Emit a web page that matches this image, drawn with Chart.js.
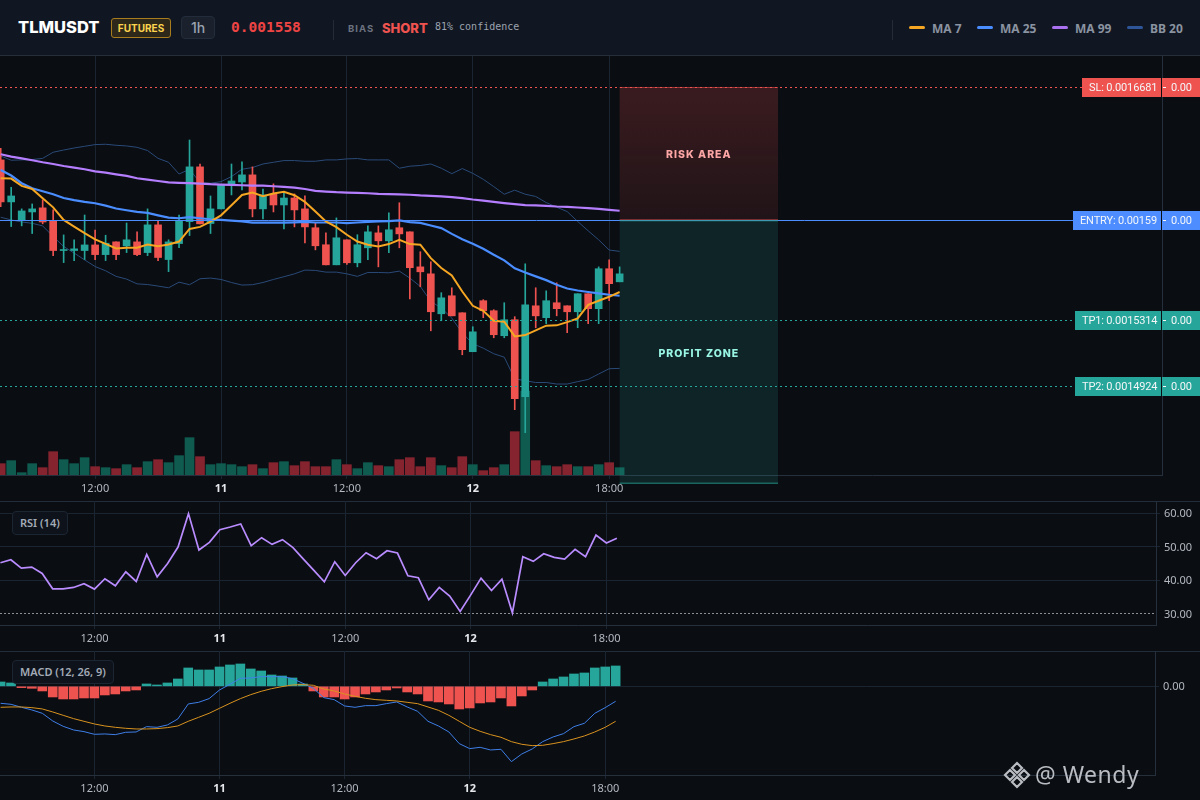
<!DOCTYPE html>
<html>
<head>
<meta charset="utf-8">
<title>TLMUSDT</title>
<script src="https://cdn.jsdelivr.net/npm/chart.js@4"></script>
<style>
html,body{margin:0;padding:0;background:#0a0d12;width:1200px;height:800px;overflow:hidden;font-family:"Noto Sans",sans-serif}
canvas{position:absolute;left:0}
.hd{position:absolute;left:0;top:0;width:1200px;height:55px;background:#111722;border-bottom:1px solid #262e39}
.t{position:absolute;white-space:nowrap}
.sep{position:absolute;top:20px;width:1px;height:20px;background:#232b37}
.sw{position:absolute;top:26px;width:16px;height:3px;border-radius:2px}
.lg{top:20px;font-size:12px;font-weight:700;color:#8a93a1}
.rule{position:absolute;left:0;width:1200px;height:1px;background:#232d3a}
.tag{position:absolute;left:12px;background:#0e131b;border:1px solid #1c2532;border-radius:4px;color:#a3abb7;font-size:11px;font-weight:600;line-height:22px;padding:0 7px;box-sizing:border-box;height:24px}
</style>
</head>
<body>
<div class="hd">
  <div class="t" style="left:18px;top:17px;font:800 16.5px Inter;color:#fff">TLMUSDT</div>
  <div class="t" style="left:111px;top:18px;width:60px;height:20px;box-sizing:border-box;border:1px solid #a97c1d;border-radius:3px;background:#2e281b;color:#fcd34d;font:700 10px/18px Inter;text-align:center">FUTURES</div>
  <div class="t" style="left:181px;top:16px;width:34px;height:23px;box-sizing:border-box;border:1px solid #232c3a;border-radius:4px;background:#1a212d;color:#9aa3b0;font:500 14px/21px Inter;text-align:center">1h</div>
  <div class="t" style="left:231px;top:19px;font:700 14.5px 'DejaVu Sans Mono';color:#ef4444">0.001558</div>
  <div class="sep" style="left:333px"></div>
  <div class="t" style="left:348px;top:23px;font:700 9.5px Inter;letter-spacing:1px;color:#6b7280">BIAS</div>
  <div class="t" style="left:382px;top:20px;font:800 13px Inter;color:#ef5350">SHORT</div>
  <div class="t" style="left:435px;top:21px;font:400 10px 'DejaVu Sans Mono';color:#9ca3af">81% confidence</div>
  <div class="sep" style="left:892px"></div>
  <div class="sw" style="left:909px;background:#f5a623"></div><div class="t lg" style="left:932px">MA 7</div>
  <div class="sw" style="left:977px;background:#4a8dff"></div><div class="t lg" style="left:1000px">MA 25</div>
  <div class="sw" style="left:1052px;background:#a970f0"></div><div class="t lg" style="left:1075px">MA 99</div>
  <div class="sw" style="left:1127px;background:#2e5597"></div><div class="t lg" style="left:1150px">BB 20</div>
</div>
<div class="rule" style="top:501px"></div>
<div class="rule" style="top:651px"></div>
<canvas id="mainChart" width="1200" height="444" style="top:56px"></canvas>
<canvas id="rsiChart" width="1200" height="149" style="top:501px"></canvas>
<canvas id="macdChart" width="1200" height="149" style="top:651px"></canvas>
<div class="tag" style="top:511px">RSI (14)</div>
<div class="tag" style="top:660px">MACD (12, 26, 9)</div>
<svg style="position:absolute;left:1003px;top:761px" width="28" height="28" viewBox="0 0 28 28" fill="none" stroke="#b9bcc2" stroke-width="2.2">
  <path d="M14 2 L19 7 L14 12 L9 7 Z M7 9 L12 14 L7 19 L2 14 Z M21 9 L26 14 L21 19 L16 14 Z M14 16 L19 21 L14 26 L9 21 Z"/>
</svg>
<div class="t" style="left:1035px;top:758px;font:400 23px 'Noto Sans';color:#b9bcc2;letter-spacing:.5px">@ Wendy</div>

<script>
// candles
var opens = [0.0016255,0.0016008,0.0015898,0.0015949,0.0015973,0.0015896,0.0015722,0.0015722,0.0015722,0.0015755,
0.0015698,0.0015773,0.0015749,0.0015773,0.0015710,0.0015873,0.0015669,0.0015763,0.0015892,0.0016214,
0.0015881,0.0015967,0.0016108,0.0016125,0.0016167,0.0015967,0.0016055,0.0015990,0.0016031,0.0015967,
0.0015856,0.0015756,0.0015638,0.0015785,0.0015650,0.0015738,0.0015826,0.0015779,0.0015856,0.0015832,
0.0015626,0.0015585,0.0015350,0.0015456,0.0015356,0.0015127,0.0015427,0.0015368,0.0015221,0.0015315,
0.0014862,0.0015397,0.0015327,0.0015415,0.0015397,0.0015362,0.0015468,0.0015380,0.0015615,0.0015538];
var highs = [0.0016323,0.0016094,0.0015967,0.0015996,0.0016020,0.0015961,0.0015814,0.0015785,0.0015931,0.0015843,
0.0015812,0.0015773,0.0015884,0.0015832,0.0015967,0.0015896,0.0015785,0.0015931,0.0016372,0.0016231,
0.0016043,0.0016108,0.0016231,0.0016243,0.0016214,0.0016084,0.0016114,0.0016067,0.0016055,0.0016043,
0.0015883,0.0015826,0.0015914,0.0015785,0.0015815,0.0015867,0.0015867,0.0015944,0.0016003,0.0015832,
0.0015715,0.0015656,0.0015474,0.0015503,0.0015356,0.0015274,0.0015433,0.0015374,0.0015415,0.0015333,
0.0015644,0.0015503,0.0015485,0.0015532,0.0015397,0.0015468,0.0015468,0.0015626,0.0015668,0.0015626];
var lows = [0.0015980,0.0015863,0.0015867,0.0015822,0.0015879,0.0015692,0.0015651,0.0015663,0.0015669,0.0015669,
0.0015663,0.0015669,0.0015710,0.0015692,0.0015692,0.0015663,0.0015598,0.0015739,0.0015810,0.0015879,
0.0015822,0.0015967,0.0016049,0.0016078,0.0015920,0.0015908,0.0015949,0.0015849,0.0015861,0.0015767,
0.0015726,0.0015638,0.0015638,0.0015640,0.0015626,0.0015668,0.0015626,0.0015709,0.0015738,0.0015438,
0.0015509,0.0015250,0.0015309,0.0015338,0.0015109,0.0015127,0.0015327,0.0015209,0.0015209,0.0014786,
0.0014651,0.0015268,0.0015292,0.0015338,0.0015239,0.0015268,0.0015292,0.0015292,0.0015427,0.0015538];
var closes = [0.0016008,0.0016043,0.0015955,0.0015967,0.0015890,0.0015722,0.0015726,0.0015732,0.0015755,0.0015698,
0.0015765,0.0015698,0.0015785,0.0015698,0.0015873,0.0015681,0.0015773,0.0015896,0.0016214,0.0015879,
0.0015967,0.0016108,0.0016131,0.0016167,0.0015967,0.0016049,0.0015990,0.0016031,0.0015961,0.0015861,
0.0015750,0.0015638,0.0015797,0.0015650,0.0015756,0.0015832,0.0015779,0.0015844,0.0015820,0.0015621,
0.0015597,0.0015362,0.0015444,0.0015338,0.0015139,0.0015244,0.0015368,0.0015227,0.0015315,0.0014851,
0.0015403,0.0015338,0.0015427,0.0015380,0.0015362,0.0015468,0.0015380,0.0015615,0.0015527,0.0015585];
var volumes = [34,43,7,34,22,70,46,34,52,25,22,19,31,22,40,46,37,58,112,55,31,34,31,25,31,19,37,40,28,40,
25,25,46,31,19,37,28,25,46,52,25,52,28,22,55,31,13,22,31,130,252,43,28,25,31,25,25,31,37,22];

// moving averages
var ma7 = [0.0016147,0.0016145,0.0016102,0.0016084,0.0016029,0.0015976,0.0015902,0.0015863,0.0015824,0.0015788,
0.0015761,0.0015734,0.0015738,0.0015738,0.0015757,0.0015747,0.0015757,0.0015775,0.0015849,0.0015861,
0.0015892,0.0015929,0.0015988,0.0016049,0.0016063,0.0016041,0.0016057,0.0016067,0.0016047,0.0016008,
0.0015952,0.0015893,0.0015860,0.0015815,0.0015775,0.0015756,0.0015746,0.0015760,0.0015785,0.0015760,
0.0015756,0.0015677,0.0015619,0.0015576,0.0015481,0.0015397,0.0015368,0.0015309,0.0015303,0.0015217,
0.0015225,0.0015252,0.0015280,0.0015282,0.0015301,0.0015323,0.0015403,0.0015427,0.0015450,0.0015478];
var ma25 = [0.0016196,0.0016163,0.0016118,0.0016088,0.0016071,0.0016053,0.0016031,0.0016018,0.0016008,0.0016000,
0.0015986,0.0015969,0.0015959,0.0015949,0.0015943,0.0015929,0.0015916,0.0015912,0.0015918,0.0015912,
0.0015906,0.0015902,0.0015898,0.0015894,0.0015886,0.0015886,0.0015886,0.0015886,0.0015888,0.0015890,
0.0015887,0.0015887,0.0015887,0.0015883,0.0015887,0.0015891,0.0015893,0.0015895,0.0015899,0.0015889,
0.0015885,0.0015869,0.0015854,0.0015820,0.0015789,0.0015762,0.0015732,0.0015697,0.0015664,0.0015617,
0.0015593,0.0015570,0.0015548,0.0015521,0.0015499,0.0015487,0.0015478,0.0015470,0.0015462,0.0015456];
var ma99 = [0.0016288,0.0016274,0.0016264,0.0016253,0.0016241,0.0016231,0.0016219,0.0016210,0.0016200,0.0016188,
0.0016180,0.0016170,0.0016161,0.0016147,0.0016139,0.0016131,0.0016123,0.0016120,0.0016118,0.0016116,
0.0016112,0.0016110,0.0016108,0.0016106,0.0016104,0.0016104,0.0016100,0.0016096,0.0016092,0.0016084,
0.0016073,0.0016069,0.0016065,0.0016063,0.0016061,0.0016059,0.0016055,0.0016054,0.0016052,0.0016050,
0.0016046,0.0016044,0.0016040,0.0016036,0.0016030,0.0016022,0.0016016,0.0016008,0.0016001,0.0015995,
0.0015989,0.0015987,0.0015985,0.0015981,0.0015979,0.0015975,0.0015971,0.0015967,0.0015961,0.0015956];
var bbUpper = [0.0016278,0.0016253,0.0016255,0.0016257,0.0016264,0.0016300,0.0016313,0.0016325,0.0016335,0.0016345,
0.0016347,0.0016341,0.0016337,0.0016329,0.0016310,0.0016264,0.0016241,0.0016172,0.0016200,0.0016121,
0.0016118,0.0016127,0.0016157,0.0016200,0.0016210,0.0016231,0.0016241,0.0016251,0.0016251,0.0016247,
0.0016247,0.0016255,0.0016255,0.0016261,0.0016263,0.0016255,0.0016255,0.0016255,0.0016206,0.0016218,
0.0016222,0.0016231,0.0016206,0.0016174,0.0016204,0.0016176,0.0016141,0.0016098,0.0016053,0.0016077,
0.0016053,0.0016040,0.0016004,0.0015977,0.0015951,0.0015893,0.0015838,0.0015785,0.0015725,0.0015717];
var bbLower = [0.0015918,0.0015902,0.0015890,0.0015882,0.0015867,0.0015804,0.0015746,0.0015707,0.0015667,0.0015628,
0.0015603,0.0015570,0.0015554,0.0015526,0.0015522,0.0015513,0.0015503,0.0015536,0.0015521,0.0015556,
0.0015560,0.0015552,0.0015534,0.0015519,0.0015521,0.0015534,0.0015552,0.0015568,0.0015585,0.0015607,
0.0015605,0.0015595,0.0015595,0.0015585,0.0015570,0.0015593,0.0015593,0.0015591,0.0015601,0.0015560,
0.0015511,0.0015423,0.0015384,0.0015325,0.0015237,0.0015174,0.0015148,0.0015115,0.0015095,0.0014968,
0.0014956,0.0014946,0.0014946,0.0014937,0.0014937,0.0014951,0.0014964,0.0014996,0.0015027,0.0015029];

// rsi panel
var rsiValues = [45.2,46.1,43.6,43.9,42.0,37.4,37.4,37.8,38.9,37.3,40.4,38.3,42.5,39.6,47.7,41.0,45.0,49.9,59.9,49.0,
51.3,55.1,55.9,56.8,50.3,52.7,50.7,52.1,49.7,46.3,42.9,39.5,45.5,41.4,45.2,48.2,46.4,48.8,48.1,41.3,
40.7,34.1,37.8,35.2,30.6,35.5,40.6,36.9,40.3,30.2,47.0,45.6,47.9,46.8,46.3,49.2,47.0,53.5,51.1,52.5];
var rsiTicks = [60,50,40,30];

// macd panel
var macdLine = [-0.51,-0.54,-0.63,-0.71,-0.81,-1.04,-1.20,-1.31,-1.36,-1.44,-1.43,-1.45,-1.38,-1.37,-1.21,-1.23,-1.16,-0.98,-0.53,-0.48,
-0.37,-0.11,0.06,0.24,0.25,0.29,0.29,0.29,0.23,0.09,-0.06,-0.34,-0.40,-0.59,-0.63,-0.58,-0.58,-0.52,-0.47,-0.62,
-0.75,-1.05,-1.19,-1.37,-1.72,-1.87,-1.83,-1.91,-1.89,-2.26,-2.03,-1.88,-1.66,-1.52,-1.42,-1.21,-1.11,-0.81,-0.64,-0.45];
var macdSignal = [-0.63,-0.62,-0.62,-0.64,-0.68,-0.77,-0.87,-0.97,-1.05,-1.13,-1.19,-1.23,-1.26,-1.28,-1.28,-1.27,-1.24,-1.19,-1.05,-0.93,
-0.81,-0.66,-0.51,-0.37,-0.25,-0.15,-0.07,-0.01,0.04,0.05,0.03,-0.08,-0.14,-0.23,-0.30,-0.36,-0.40,-0.42,-0.44,-0.48,
-0.52,-0.62,-0.72,-0.87,-1.05,-1.23,-1.35,-1.45,-1.53,-1.66,-1.74,-1.78,-1.77,-1.72,-1.66,-1.58,-1.49,-1.37,-1.23,-1.05];
var macdHist = [0.13,0.10,-0.04,-0.06,-0.14,-0.32,-0.38,-0.38,-0.35,-0.35,-0.26,-0.23,-0.14,-0.11,0.07,0.04,0.10,0.22,0.55,0.49,
0.49,0.58,0.64,0.67,0.52,0.46,0.34,0.31,0.25,0.07,-0.14,-0.32,-0.32,-0.38,-0.32,-0.23,-0.17,-0.11,-0.05,-0.17,
-0.23,-0.44,-0.47,-0.53,-0.68,-0.65,-0.50,-0.47,-0.35,-0.59,-0.29,-0.11,0.13,0.22,0.28,0.37,0.40,0.55,0.58,0.61];
var macdTicks = [0];

// time axis
var tickIndex = [9,21,33,45,58];
var tickLabels = ['12:00','11','12:00','12','18:00'];

// trade levels
var levelPrices = [0.0016681,0.00159,0.0015314,0.0014924];
var levelTexts = ['SL: 0.0016681','ENTRY: 0.00159','TP1: 0.0015314','TP2: 0.0014924'];
var levelValue = '0.00';
var levelColors = ['#ef5350','#4d8dff','#26a69a','#26a69a'];
var zoneStart = 59, zoneEnd = 74.1, zoneBottom = 0.0014351;

var UP = '#26a69a', DOWN = '#ef5350';
var GRID = '#1b2431', AXIS = '#262f3c', TXT = '#b4b9c1';

function xy(arr) {
    return arr.map(function (v, i) { return { x: i, y: v }; });
}

function lineSet(arr, color, width, order) {
    return { type: 'line', data: xy(arr), borderColor: color, borderWidth: width, pointRadius: 0, tension: 0, order: order, yAxisID: 'y' };
}

// the day labels are the short ones, they are bold and brighter
function isDay(i) {
    return tickLabels[i] !== undefined && tickLabels[i].length < 3;
}

function xAxis(min, max) {
    return {
        type: 'linear', min: min, max: max, offset: false,
        afterBuildTicks: function (s) { s.ticks = tickIndex.map(function (v) { return { value: v }; }); },
        afterFit: function (s) { s.height = 25; s.paddingLeft = 0; s.paddingRight = 0; },
        grid: { offset: false, color: GRID, tickColor: GRID, tickLength: 4 },
        border: { color: AXIS },
        ticks: {
            autoSkip: false, maxRotation: 0, padding: 3,
            callback: function (v, i) { return tickLabels[i]; },
            color: function (c) { return isDay(c.index) ? '#e5e7eb' : TXT; },
            font: function (c) {
                return { family: 'Noto Sans', size: 11, weight: isDay(c.index) ? '700' : '400' };
            }
        }
    };
}

// price lines, the two shaded zones and the boxes on the right
var tradePlugin = {
    id: 'trade',
    afterDatasetsDraw: function (chart) {
        var c = chart.ctx, xs = chart.scales.x, ys = chart.scales.y;
        var x0 = xs.getPixelForValue(zoneStart), x1 = xs.getPixelForValue(zoneEnd);
        c.save();
        c.font = '11px Roboto';
        c.letterSpacing = '-0.15px';
        var right = chart.chartArea.right;
        var boxes = levelPrices.map(function (p, i) {
            return { y: Math.round(ys.getPixelForValue(p) - 0.3) + 0.5, left: Math.round(right - 1 - c.measureText(levelTexts[i]).width - 11) };
        });
        boxes.forEach(function (b, i) {
            c.strokeStyle = levelColors[i];
            c.lineWidth = 1;
            c.setLineDash(i == 1 ? [] : [2, 3]);
            c.beginPath(); c.moveTo(0, b.y); c.lineTo(b.left, b.y); c.stroke();
        });
        c.setLineDash([]);

        var ySl = ys.getPixelForValue(levelPrices[0]), yEn = ys.getPixelForValue(levelPrices[1]), yBot = ys.getPixelForValue(zoneBottom);
        var g = c.createLinearGradient(0, ySl, 0, yEn);
        g.addColorStop(0, 'rgba(239,83,80,0.21)');
        g.addColorStop(1, 'rgba(239,83,80,0.10)');
        c.fillStyle = g;
        c.fillRect(x0, ySl, x1 - x0, yEn - ySl);
        c.fillStyle = 'rgba(38,166,154,0.15)';
        c.fillRect(x0, yEn, x1 - x0, yBot - yEn);
        c.fillStyle = 'rgba(239,83,80,0.6)';
        c.fillRect(x0, ySl - 0.5, x1 - x0, 1);
        c.fillRect(x0, yEn - 1, x1 - x0, 1);
        c.fillStyle = 'rgba(38,166,154,0.8)';
        c.fillRect(x0, yEn, x1 - x0, 1);
        c.fillRect(x0, yBot - 1, x1 - x0, 1);

        c.textAlign = 'center'; c.textBaseline = 'middle';
        c.letterSpacing = '1px';
        c.font = '800 10.5px Inter';
        c.fillStyle = '#fca5a5';
        c.fillText('RISK AREA', (x0 + x1) / 2, ys.getPixelForValue(0.0016284));
        c.fillStyle = '#99f6e4';
        c.fillText('PROFIT ZONE', (x0 + x1) / 2, ys.getPixelForValue(0.0015115));

        c.letterSpacing = '-0.15px';
        c.font = '11px Roboto';
        boxes.forEach(function (b, i) {
            var top = Math.floor(b.y) - 9;
            c.fillStyle = levelColors[i];
            c.fillRect(b.left, top, right - 1 - b.left, 19);
            c.fillRect(right, top, 38, 19);
            c.fillStyle = '#f4f6f8';
            c.textAlign = 'left';
            c.fillText(levelTexts[i], b.left + 7, top + 10);
            c.fillText(levelValue, right + 9, top + 10);
            c.fillRect(right + 1, top + 9, 3, 1);
        });
        c.restore();
    }
};

var up = closes.map(function (v, i) { return v >= opens[i]; });

new Chart(document.getElementById('mainChart'), {
    data: {
        datasets: [
            { type: 'bar', data: xy(volumes), yAxisID: 'vol', grouped: false, barThickness: 9, order: 20,
              backgroundColor: up.map(function (u) { return u ? '#0f5b50' : '#85242f'; }) },
            lineSet(bbUpper, '#2a4a78', 1, 15),
            lineSet(bbLower, '#2a4a78', 1, 15),
            { type: 'bar', data: highs.map(function (h, i) { return { x: i, y: [lows[i], h] }; }), yAxisID: 'y', grouped: false, barThickness: 1, order: 10,
              backgroundColor: up.map(function (u) { return u ? UP : DOWN; }) },
            { type: 'bar', data: opens.map(function (o, i) { return { x: i, y: [o, closes[i]] }; }), yAxisID: 'y', grouped: false, barThickness: 7, minBarLength: 1, order: 9,
              backgroundColor: up.map(function (u) { return u ? UP : DOWN; }) },
            lineSet(ma99, '#b57eff', 2.2, 5),
            lineSet(ma25, '#4a8dff', 2.2, 4),
            lineSet(ma7, '#f5a623', 2, 3)
        ]
    },
    options: {
        responsive: false, animation: false, devicePixelRatio: 1,
        layout: { padding: { right: 38 } },
        plugins: { legend: { display: false }, tooltip: { enabled: false } },
        scales: {
            x: xAxis(-0.067, 110.7),
            y: { position: 'right', min: 0.0014402, max: 0.0016866, grid: { display: false }, border: { color: AXIS }, ticks: { display: false },
                 afterFit: function (s) { s.width = 0; s.paddingTop = 0; s.paddingBottom = 0; } },
            vol: { display: false, min: 0, max: 1257 }
        }
    },
    plugins: [tradePlugin]
});

new Chart(document.getElementById('rsiChart'), {
    data: {
        datasets: [
            { type: 'line', data: xy(rsiValues), borderColor: '#b98cff', borderWidth: 1.7, pointRadius: 0, tension: 0 },
            { type: 'line', data: [{ x: -0.04, y: 30 }, { x: 110.6, y: 30 }], borderColor: '#8b9099', borderWidth: 1, borderDash: [2, 2], pointRadius: 0 }
        ]
    },
    options: {
        responsive: false, animation: false, devicePixelRatio: 1,
        plugins: { legend: { display: false }, tooltip: { enabled: false } },
        scales: {
            x: xAxis(-0.04, 110.6),
            y: {
                position: 'right', min: 26.56, max: 63.68,
                afterBuildTicks: function (s) { s.ticks = rsiTicks.map(function (v) { return { value: v }; }); },
                afterFit: function (s) { s.width = 44; s.paddingTop = 0; s.paddingBottom = 0; },
                grid: { color: function (c) { return c.tick && c.tick.value == 30 ? 'transparent' : GRID; }, tickLength: 4 },
                border: { color: AXIS },
                ticks: { color: TXT, padding: 4, labelOffset: 1, font: { family: 'Noto Sans', size: 11 }, callback: function (v) { return v.toFixed(2); } }
            }
        }
    }
});

new Chart(document.getElementById('macdChart'), {
    data: {
        datasets: [
            { type: 'bar', data: xy(macdHist), barThickness: 9, grouped: false, order: 5,
              backgroundColor: macdHist.map(function (v) { return v >= 0 ? UP : DOWN; }) },
            { type: 'line', data: xy(macdLine), borderColor: '#3f7fe8', borderWidth: 1, pointRadius: 0, tension: 0, order: 2 },
            { type: 'line', data: xy(macdSignal), borderColor: '#d9931f', borderWidth: 1, pointRadius: 0, tension: 0, order: 1 }
        ]
    },
    options: {
        responsive: false, animation: false, devicePixelRatio: 1,
        plugins: { legend: { display: false }, tooltip: { enabled: false } },
        scales: {
            x: xAxis(-0.058, 110.74),
            y: {
                position: 'right', min: -2.661, max: 1.059,
                afterBuildTicks: function (s) { s.ticks = macdTicks.map(function (v) { return { value: v }; }); },
                afterFit: function (s) { s.width = 45; s.paddingTop = 0; s.paddingBottom = 0; },
                grid: { color: GRID, tickLength: 4 },
                border: { color: AXIS },
                ticks: { color: TXT, padding: 4, labelOffset: 1, font: { family: 'Noto Sans', size: 11 }, callback: function (v) { return v.toFixed(2); } }
            }
        }
    }
});
</script>
</body>
</html>
